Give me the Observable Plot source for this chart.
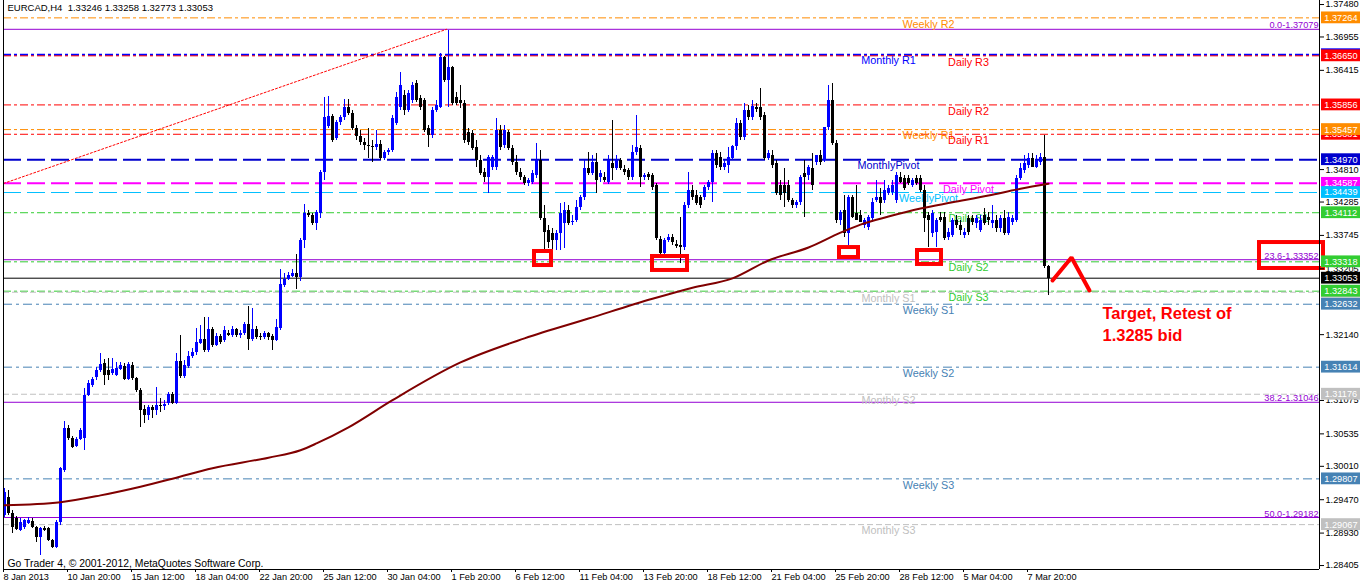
<!DOCTYPE html>
<html><head><meta charset="utf-8">
<script src="https://cdn.jsdelivr.net/npm/d3@7"></script>
<script src="https://cdn.jsdelivr.net/npm/@observablehq/plot@0.6"></script>
<style>html,body{margin:0;padding:0;background:#fff}#chart svg{display:block}</style>
</head><body><div id="chart"></div>
<script>
// ---------- data ----------
const opens = [1.2921,1.2951,1.2925,1.2917,1.2897,1.2902,1.2909,1.2912,1.2902,1.2886,1.2900,1.2900,1.2881,1.2870,1.2910,1.2994,1.3062,1.3046,1.3033,1.3044,1.3046,1.3116,1.3132,1.3145,1.3156,1.3167,1.3156,1.3151,1.3148,1.3158,1.3163,1.3141,1.3164,1.3143,1.3124,1.3093,1.3083,1.3096,1.3091,1.3099,1.3098,1.3103,1.3117,1.3103,1.3171,1.3146,1.3163,1.3179,1.3185,1.3200,1.3206,1.3188,1.3222,1.3196,1.3211,1.3205,1.3216,1.3213,1.3222,1.3213,1.3216,1.3230,1.3206,1.3222,1.3211,1.3209,1.3216,1.3211,1.3205,1.3224,1.3293,1.3303,1.3308,1.3313,1.3306,1.3366,1.3410,1.3407,1.3394,1.3410,1.3476,1.3551,1.3567,1.3531,1.3557,1.3565,1.3581,1.3572,1.3547,1.3535,1.3525,1.3520,1.3518,1.3517,1.3522,1.3499,1.3509,1.3512,1.3556,1.3581,1.3601,1.3577,1.3593,1.3620,1.3596,1.3593,1.3547,1.3536,1.3577,1.3581,1.3662,1.3625,1.3646,1.3598,1.3593,1.3588,1.3541,1.3539,1.3517,1.3496,1.3476,1.3468,1.3484,1.3484,1.3544,1.3520,1.3541,1.3515,1.3492,1.3476,1.3468,1.3459,1.3460,1.3471,1.3496,1.3402,1.3382,1.3378,1.3366,1.3378,1.3394,1.3415,1.3395,1.3399,1.3420,1.3436,1.3483,1.3475,1.3492,1.3468,1.3468,1.3460,1.3491,1.3483,1.3496,1.3481,1.3480,1.3468,1.3509,1.3515,1.3468,1.3473,1.3471,1.3455,1.3368,1.3345,1.3366,1.3371,1.3360,1.3358,1.3355,1.3423,1.3447,1.3439,1.3436,1.3436,1.3452,1.3460,1.3507,1.3501,1.3484,1.3488,1.3499,1.3518,1.3556,1.3533,1.3577,1.3565,1.3581,1.3581,1.3569,1.3499,1.3504,1.3491,1.3455,1.3455,1.3455,1.3431,1.3423,1.3428,1.3475,1.3471,1.3483,1.3492,1.3504,1.3496,1.3549,1.3593,1.3523,1.3399,1.3415,1.3378,1.3436,1.3410,1.3407,1.3391,1.3387,1.3402,1.3431,1.3436,1.3431,1.3442,1.3444,1.3431,1.3468,1.3467,1.3467,1.3455,1.3467,1.3467,1.3447,1.3407,1.3378,1.3379,1.3404,1.3404,1.3371,1.3374,1.3399,1.3391,1.3374,1.3402,1.3402,1.3394,1.3382,1.3407,1.3404,1.3394,1.3399,1.3386,1.3402,1.3378,1.3395,1.3399,1.3467,1.3480,1.3488,1.3499,1.3484,1.3492,1.3501,1.33246];
const highs = [1.2965,1.2962,1.2930,1.2920,1.2917,1.2915,1.2918,1.2917,1.2904,1.2902,1.2904,1.2902,1.2883,1.2913,1.2999,1.3074,1.3067,1.3049,1.3048,1.3062,1.3127,1.3140,1.3145,1.3161,1.3184,1.3174,1.3175,1.3175,1.3169,1.3169,1.3167,1.3169,1.3169,1.3145,1.3127,1.3099,1.3099,1.3099,1.3129,1.3111,1.3108,1.3120,1.3120,1.3184,1.3213,1.3172,1.3187,1.3192,1.3224,1.3229,1.3242,1.3242,1.3226,1.3216,1.3214,1.3227,1.3221,1.3227,1.3224,1.3221,1.3234,1.3260,1.3256,1.3227,1.3216,1.3219,1.3217,1.3214,1.3238,1.3319,1.3313,1.3315,1.3319,1.3344,1.3370,1.3424,1.3415,1.3410,1.3415,1.3480,1.3598,1.3599,1.3570,1.3560,1.3569,1.3594,1.3594,1.3577,1.3552,1.3544,1.3531,1.3547,1.3528,1.3544,1.3528,1.3512,1.3515,1.3569,1.3606,1.3638,1.3609,1.3609,1.3622,1.3625,1.3601,1.3596,1.3552,1.3581,1.3593,1.3669,1.3664,1.3706,1.3648,1.3606,1.3617,1.3593,1.3547,1.3544,1.3528,1.3504,1.3483,1.3504,1.3504,1.3564,1.3552,1.3552,1.3544,1.3520,1.3504,1.3483,1.3471,1.3467,1.3480,1.3523,1.3512,1.3423,1.3391,1.3386,1.3382,1.3426,1.3428,1.3423,1.3407,1.3431,1.3439,1.3496,1.3509,1.3504,1.3507,1.3480,1.3476,1.3504,1.3560,1.3504,1.3499,1.3488,1.3483,1.3520,1.3569,1.3520,1.3475,1.3476,1.3475,1.3459,1.3373,1.3370,1.3376,1.3376,1.3366,1.3404,1.3428,1.3476,1.3455,1.3447,1.3439,1.3455,1.3463,1.3512,1.3512,1.3509,1.3496,1.3517,1.3520,1.3564,1.3560,1.3588,1.3585,1.3593,1.3588,1.3612,1.3573,1.3512,1.3512,1.3496,1.3463,1.3483,1.3463,1.3434,1.3431,1.3471,1.3496,1.3488,1.3507,1.3504,1.3512,1.3549,1.3617,1.3620,1.3528,1.3415,1.3439,1.3439,1.3439,1.3455,1.3415,1.3402,1.3407,1.3434,1.3463,1.3450,1.3463,1.3455,1.3463,1.3476,1.3476,1.3471,1.3471,1.3467,1.3471,1.3471,1.3455,1.3412,1.3415,1.3402,1.3412,1.3412,1.3386,1.3402,1.3407,1.3399,1.3386,1.3407,1.3407,1.3407,1.3407,1.3418,1.3412,1.3423,1.3407,1.3407,1.3415,1.3412,1.3407,1.3471,1.3491,1.3504,1.3507,1.3507,1.3504,1.3507,1.3536,1.33258];
const lows = [1.2918,1.2921,1.2892,1.2897,1.2896,1.2899,1.2907,1.2900,1.2878,1.2857,1.2896,1.2879,1.2868,1.2868,1.2905,1.2991,1.3043,1.3030,1.3031,1.3043,1.3027,1.3114,1.3129,1.3140,1.3153,1.3132,1.3140,1.3148,1.3146,1.3156,1.3140,1.3140,1.3140,1.3120,1.3064,1.3070,1.3075,1.3078,1.3083,1.3088,1.3091,1.3099,1.3101,1.3101,1.3143,1.3143,1.3159,1.3175,1.3180,1.3198,1.3185,1.3185,1.3193,1.3195,1.3198,1.3201,1.3211,1.3209,1.3209,1.3208,1.3213,1.3188,1.3203,1.3206,1.3205,1.3206,1.3205,1.3188,1.3203,1.3221,1.3290,1.3302,1.3306,1.3287,1.3300,1.3353,1.3404,1.3391,1.3382,1.3402,1.3463,1.3547,1.3525,1.3528,1.3552,1.3560,1.3569,1.3544,1.3528,1.3520,1.3512,1.3499,1.3492,1.3512,1.3496,1.3496,1.3504,1.3509,1.3552,1.3577,1.3569,1.3573,1.3588,1.3590,1.3577,1.3541,1.3517,1.3531,1.3573,1.3580,1.3622,1.3581,1.3585,1.3585,1.3580,1.3523,1.3520,1.3512,1.3484,1.3471,1.3460,1.3442,1.3480,1.3480,1.3512,1.3515,1.3512,1.3488,1.3471,1.3463,1.3455,1.3454,1.3457,1.3467,1.3399,1.3350,1.3353,1.3350,1.3350,1.3350,1.3353,1.3391,1.3391,1.3395,1.3415,1.3431,1.3471,1.3471,1.3442,1.3460,1.3460,1.3457,1.3463,1.3480,1.3480,1.3471,1.3463,1.3463,1.3504,1.3452,1.3463,1.3463,1.3447,1.3366,1.3342,1.3342,1.3363,1.3358,1.3353,1.3329,1.3350,1.3418,1.3431,1.3423,1.3418,1.3431,1.3447,1.3428,1.3483,1.3480,1.3480,1.3475,1.3496,1.3512,1.3528,1.3528,1.3560,1.3560,1.3573,1.3560,1.3496,1.3496,1.3483,1.3439,1.3431,1.3420,1.3428,1.3418,1.3418,1.3423,1.3404,1.3463,1.3447,1.3488,1.3488,1.3492,1.3544,1.3520,1.3394,1.3391,1.3371,1.3358,1.3402,1.3399,1.3395,1.3386,1.3382,1.3395,1.3428,1.3407,1.3426,1.3439,1.3439,1.3426,1.3459,1.3447,1.3455,1.3452,1.3455,1.3444,1.3379,1.3355,1.3371,1.3355,1.3395,1.3366,1.3366,1.3371,1.3386,1.3374,1.3370,1.3374,1.3391,1.3386,1.3379,1.3391,1.3391,1.3386,1.3379,1.3379,1.3374,1.3374,1.3391,1.3395,1.3463,1.3475,1.3483,1.3484,1.3483,1.3488,1.3321,1.32773];
const closes = [1.2959,1.2925,1.2902,1.2899,1.2910,1.2913,1.2913,1.2902,1.2886,1.2900,1.2897,1.2881,1.2870,1.2910,1.2998,1.3062,1.3046,1.3031,1.3044,1.3059,1.3116,1.3135,1.3141,1.3156,1.3166,1.3148,1.3148,1.3158,1.3159,1.3164,1.3141,1.3166,1.3143,1.3124,1.3091,1.3083,1.3096,1.3091,1.3099,1.3098,1.3101,1.3117,1.3103,1.3171,1.3146,1.3164,1.3179,1.3185,1.3201,1.3206,1.3188,1.3222,1.3196,1.3211,1.3201,1.3221,1.3213,1.3222,1.3213,1.3216,1.3230,1.3206,1.3222,1.3209,1.3209,1.3216,1.3209,1.3205,1.3226,1.3295,1.3303,1.3310,1.3313,1.3306,1.3366,1.3410,1.3407,1.3394,1.3412,1.3476,1.3565,1.3567,1.3528,1.3557,1.3565,1.3581,1.3572,1.3547,1.3535,1.3525,1.3520,1.3518,1.3517,1.3522,1.3499,1.3509,1.3512,1.3564,1.3598,1.3617,1.3577,1.3604,1.3617,1.3593,1.3581,1.3544,1.3536,1.3577,1.3585,1.3662,1.3625,1.3646,1.3588,1.3588,1.3588,1.3528,1.3525,1.3515,1.3496,1.3475,1.3468,1.3501,1.3501,1.3544,1.3517,1.3544,1.3515,1.3492,1.3476,1.3468,1.3459,1.3463,1.3475,1.3496,1.3402,1.3379,1.3363,1.3366,1.3378,1.3410,1.3415,1.3394,1.3397,1.3420,1.3436,1.3483,1.3475,1.3492,1.3463,1.3475,1.3463,1.3496,1.3483,1.3496,1.3483,1.3476,1.3468,1.3509,1.3517,1.3468,1.3471,1.3468,1.3452,1.3370,1.3345,1.3366,1.3371,1.3363,1.3357,1.3355,1.3423,1.3447,1.3436,1.3426,1.3423,1.3452,1.3460,1.3507,1.3488,1.3484,1.3491,1.3501,1.3518,1.3556,1.3533,1.3577,1.3565,1.3583,1.3578,1.3565,1.3499,1.3507,1.3488,1.3442,1.3439,1.3442,1.3431,1.3423,1.3428,1.3468,1.3468,1.3484,1.3455,1.3504,1.3492,1.3549,1.3593,1.3523,1.3399,1.3412,1.3378,1.3436,1.3404,1.3399,1.3395,1.3399,1.3404,1.3428,1.3436,1.3426,1.3447,1.3450,1.3455,1.3471,1.3460,1.3450,1.3459,1.3463,1.3459,1.3447,1.3402,1.3399,1.3410,1.3399,1.3399,1.3370,1.3379,1.3399,1.3391,1.3382,1.3379,1.3379,1.3395,1.3402,1.3399,1.3394,1.3399,1.3399,1.3386,1.3402,1.3378,1.3404,1.3402,1.3467,1.3483,1.3491,1.3499,1.3484,1.3496,1.3501,1.3325,1.33053];

// moving average read at sample bars
const maBars   = [0,14,24,34,42,52,66,74,78,86,97,114,130,146,162,172,182,191,201,209,214,221,229,237,246,254,261];
const maValues = [1.2938,1.2943,1.2954,1.2968,1.2981,1.2998,1.3015,1.3027,1.3038,1.3064,1.3108,1.3169,1.3208,1.3240,1.3272,1.3290,1.3305,1.3334,1.3355,1.3379,1.3392,1.3405,1.3418,1.3428,1.3439,1.3450,1.3458];

// time axis
const tickBars   = [0,16,32,48,64,80,96,112,128,144,160,176,192,208,224,240,256];
const tickLabels = ["8 Jan 2013","10 Jan 20:00","15 Jan 12:00","18 Jan 04:00","22 Jan 20:00","25 Jan 12:00","30 Jan 04:00","1 Feb 20:00","6 Feb 12:00","11 Feb 04:00","13 Feb 20:00","18 Feb 12:00","21 Feb 04:00","25 Feb 20:00","28 Feb 12:00","5 Mar 04:00","7 Mar 20:00"];
const priceTicks = [1.37480,1.36955,1.36415,1.34810,1.34285,1.33745,1.33205,1.32140,1.31075,1.30535,1.30010,1.29470,1.28930,1.28405];

// pivot levels
const levelNames  = ["Weekly R2","Monthly R1","Daily R3","Daily R2","Weekly R1","Daily R1","MonthlyPivot","Daily Pivot","WeeklyPivot","Daily S1","Daily S2","Monthly S1","Daily S3","Weekly S1","Weekly S2","Monthly S2","Weekly S3","Monthly S3"];
const levelPrices = [1.37264,1.36668,1.36650,1.35856,1.35457,1.35381,1.34970,1.34587,1.34439,1.34112,1.33318,1.32826,1.32843,1.32632,1.31614,1.31176,1.29807,1.29067];
const levelTypes  = ["WR","MR","DR","DR","WR","DR","MP","DP","WP","DS","DS","MS","DS","WS","WS","MS","WS","MS"];

// fibonacci
const fibNames  = ["0.0","23.6","38.2","50.0"];
const fibPrices = [1.37079,1.33352,1.31046,1.29182];
const fibTrendBars = [-0.25,110.5];
const fibTrendPrices = [1.34585,1.37079];

const currentPrice = 1.33053;
const header = "EURCAD,H4\u00a0 1.33246 1.33258 1.32773 1.33053";
const footer = "Go Trader 4, \u00a9 2001-2012, MetaQuotes Software Corp.";

// annotations
const boxBarFrom = [132.5,162,208.75,228.25,313.75];
const boxBarTo   = [136.75,170.75,213.5,234.25,329.75];
const boxTop     = [1.33485,1.33404,1.33549,1.33501,1.33630];
const boxBottom  = [1.33258,1.33178,1.33388,1.33275,1.33210];
const chevronBars   = [262,266.75,271.25];
const chevronPrices = [1.33016,1.33388,1.32854];
const noteLines  = ["Target, Retest of","1.3285 bid"];
const notePrices = [1.32482,1.32126];
const noteBar = 274.5;

// ---------- styles ----------
const styles = {
  WR:{c:"#FF8C00",d:"8,3,3,3",w:1}, MR:{c:"#0000FF",d:"8,3,3,3",w:2}, DR:{c:"#FF0000",d:"8,3,3,3",w:1},
  MP:{c:"#0000CD",d:"18,6",w:2},    DP:{c:"#FF00FF",d:"18,6",w:2},    WP:{c:"#00BFFF",d:"18,6",w:1},
  DS:{c:"#32CD32",d:"8,3,3,3",w:1}, WS:{c:"#4682B4",d:"9,4,3,4",w:1}, MS:{c:"#C0C0C0",d:"6,3",w:1}
};
const labelBar = {M:221, W:231, D:241};

const xDomain = [-0.25, 328.75];
const yDomain = [1.28341, 1.37545];
const pxP = (yDomain[1]-yDomain[0]) / 569;

const bars = opens.map((o,i)=>{
  let lo = Math.min(o, closes[i]), hi = Math.max(o, closes[i]);
  if (hi - lo < pxP) { const m = (hi+lo)/2; lo = m - pxP/2; hi = m + pxP/2; }
  return {i, o, h: highs[i], l: lows[i], c: closes[i], lo, hi, up: closes[i] > o};
});
const levels = levelNames.map((n,i)=>({name:n, price:levelPrices[i], type:levelTypes[i]}));
const ma = maBars.map((b,i)=>({b, v:maValues[i]}));

const marks = [];
for (const t of Object.keys(styles)) {
  const s = styles[t];
  marks.push(Plot.ruleY(levels.filter(d=>d.type===t), {y:"price", stroke:s.c, strokeWidth:s.w, strokeDasharray:s.d}));
}
marks.push(Plot.ruleY(fibPrices, {stroke:"#9400D3", strokeWidth:1}));
marks.push(Plot.ruleY([currentPrice], {stroke:"#000", strokeWidth:1}));
marks.push(Plot.line(fibTrendBars.map((b,i)=>({b, v:fibTrendPrices[i]})), {x:"b", y:"v", stroke:"#FF0000", strokeWidth:1, strokeDasharray:"2,2"}));
marks.push(Plot.text(levels, {x:d=>labelBar[d.type[0]], y:"price", text:"name", fill:d=>styles[d.type].c,
  fontSize:10.8, textAnchor:"middle", lineAnchor:"top", dy:2}));
marks.push(Plot.text(fibPrices, {x:()=>328.5, y:d=>d, text:(d,i)=>`${fibNames[i]}-${d.toFixed(5)}`, fill:"#9400D3",
  fontSize:9.2, textAnchor:"end", lineAnchor:"bottom", dy:-1}));
marks.push(Plot.ruleX(bars, {x:"i", y1:"l", y2:"h", stroke:d=>d.up?"#0000FF":"#000000", strokeWidth:1, shapeRendering:"crispEdges"}));
marks.push(Plot.rect(bars, {x1:d=>d.i-0.375, x2:d=>d.i+0.375, y1:"lo", y2:"hi", fill:d=>d.up?"#0000FF":"#000000", shapeRendering:"crispEdges"}));
marks.push(Plot.line(ma, {x:"b", y:"v", stroke:"#800000", strokeWidth:2, curve:"monotone-x"}));
marks.push(Plot.rect(boxBarFrom.map((b,i)=>({b1:b, b2:boxBarTo[i], p1:boxBottom[i], p2:boxTop[i]})),
  {x1:"b1", x2:"b2", y1:"p1", y2:"p2", fill:"none", stroke:"#FF0000", strokeWidth:4}));
marks.push(Plot.line(chevronBars.map((b,i)=>({b, v:chevronPrices[i]})), {x:"b", y:"v", stroke:"#FF0000", strokeWidth:4, strokeLinejoin:"miter"}));
marks.push(Plot.text(noteLines, {x:()=>noteBar, y:(d,i)=>notePrices[i], text:d=>d, fill:"#FF0000", fontWeight:"bold",
  fontSize:16.5, textAnchor:"start", lineAnchor:"middle"}));
marks.push(Plot.ruleX([xDomain[0], xDomain[1]], {stroke:"#000"}));
marks.push(Plot.ruleY([yDomain[0]], {stroke:"#000"}));
marks.push(Plot.axisY({anchor:"right", ticks:priceTicks, tickFormat:d=>d.toFixed(5), tickSize:4, tickPadding:2, label:null, fontSize:9.2}));
marks.push(Plot.axisX({anchor:"bottom", ticks:tickBars.map(b=>b-1), tickFormat:d=>tickLabels[tickBars.indexOf(d+1)],
  tickSize:3, tickPadding:1, textAnchor:"start", dx:3, label:null, fontSize:9.2}));
const boxH = 5.9 * pxP;
const boxOrder = ["Monthly S1","Monthly R1","Daily R1"];
const boxes = [...levels].sort((a,b)=>{
  const ia = boxOrder.indexOf(a.name), ib = boxOrder.indexOf(b.name);
  return (ia<0?99:ia) - (ib<0?99:ib);
}).map(d=>({price:d.price, color:styles[d.type].c}));
boxes.push({price:currentPrice, color:"#000000"});
for (const bx of boxes) {
  marks.push(Plot.rect([bx], {x1:()=>329.25, x2:()=>339, y1:d=>d.price-boxH, y2:d=>d.price+boxH, fill:d=>d.color}));
  marks.push(Plot.text([bx], {x:()=>334.1, y:"price", text:d=>d.price.toFixed(5), fill:"#fff", fontSize:9.2}));
}
marks.push(Plot.text([header], {frameAnchor:"top-left", text:d=>d, dx:4, dy:4, lineAnchor:"top", textAnchor:"start", fontSize:9.5, fill:"#000"}));
marks.push(Plot.text([footer], {frameAnchor:"bottom-left", text:d=>d, dx:4, dy:-3, lineAnchor:"bottom", textAnchor:"start", fontSize:10.4, fill:"#000"}));

const chart = Plot.plot({
  width:1360, height:586,
  marginLeft:3, marginRight:41, marginTop:0, marginBottom:17,
  x:{domain:xDomain, axis:null},
  y:{domain:yDomain, axis:null},
  style:{fontFamily:"'Liberation Sans', Arial, sans-serif", fontSize:"9.2px", background:"#fff", color:"#000", overflow:"visible"},
  marks
});
document.getElementById("chart").appendChild(chart);
</script>
</body></html>
